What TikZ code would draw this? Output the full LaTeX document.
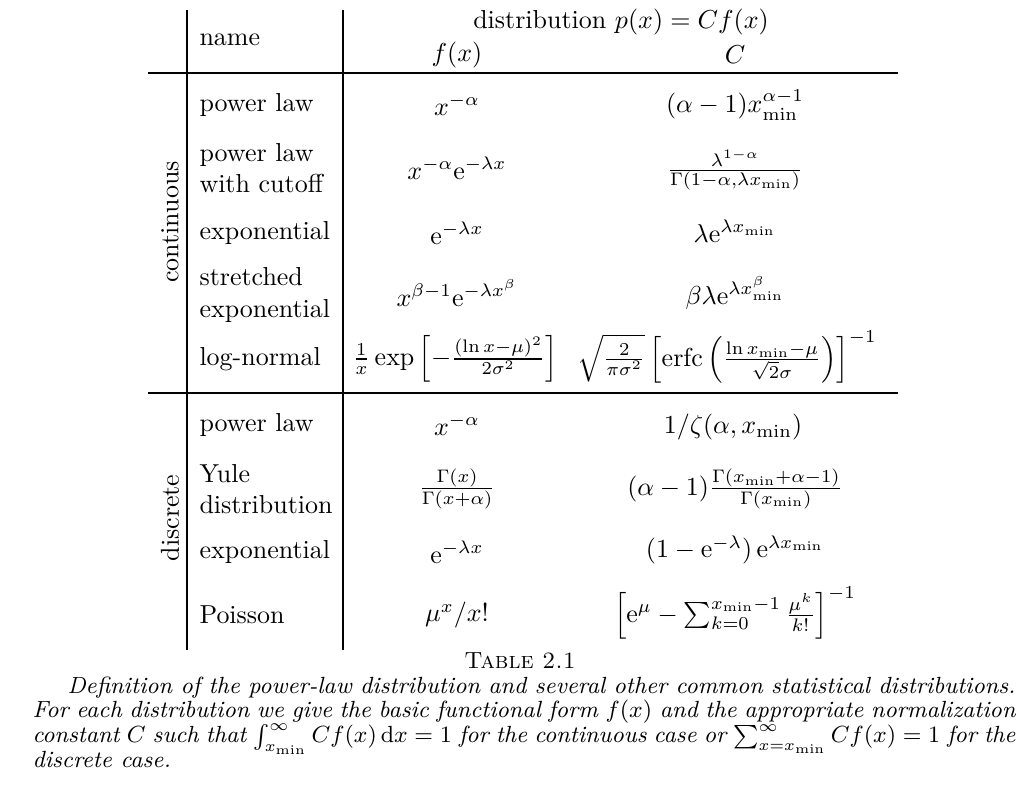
\documentclass[tikz,border=0pt]{standalone}
\usepackage{amsmath}
\begin{document}
\begin{tikzpicture}[x=0.385pt,y=-0.385pt,
  nm/.style={anchor=west,inner sep=0pt,align=left},
  cell/.style={inner sep=0pt},
  rule/.style={line width=0.8pt}]
\useasboundingbox (0,0) rectangle (1036,784);
\draw[rule] (187,10) -- (187,650);
\draw[rule] (343,10) -- (343,650);
\draw[rule] (148,73) -- (898,73);
\draw[rule] (148,393) -- (898,393);
% header
\node[nm] (hname) at (199,40) {name};
\node[cell] (hdist) at (621,22) {distribution $p(x)=Cf(x)$};
\node[cell] (hf) at (457,55) {$f(x)$};
\node[cell] (hc) at (735,55) {$C$};
\node[cell,rotate=90] (cont) at (170,222) {continuous};
\node[cell,rotate=90] (disc) at (170,518) {discrete};
% continuous
\node[nm] (n1) at (199,105) {power law};
\node[cell] (f1) at (457,105) {$x^{-\alpha}$};
\node[cell] (c1) at (735,105) {$(\alpha-1)x_{\min}^{\alpha-1}$};
\node[nm,text width=150] (n2) at (199,168) {power law\\[0pt]with cutoff};
\node[cell] (f2) at (457,168) {$x^{-\alpha}\mathrm{e}^{-\lambda x}$};
\node[cell] (c2) at (735,170) {$\frac{\lambda^{1-\alpha}}{\Gamma(1-\alpha,\lambda x_{\min})}$};
\node[nm] (n3) at (199,233) {exponential};
\node[cell] (f3) at (457,233) {$\mathrm{e}^{-\lambda x}$};
\node[cell] (c3) at (735,231) {$\lambda\mathrm{e}^{\lambda x_{\min}}$};
\node[nm,text width=150] (n4) at (199,295) {stretched\\[0pt]exponential};
\node[cell] (f4) at (457,293) {$x^{\beta-1}\mathrm{e}^{-\lambda x^\beta}$};
\node[cell] (c4) at (735,293) {$\beta\lambda\mathrm{e}^{\lambda x_{\min}^\beta}$};
\node[nm] (n5) at (199,359) {log-normal};
\node[cell] (f5) at (455,359) {$\frac{1}{x}\exp\left[-\frac{(\ln x-\mu)^2}{2\sigma^2}\right]$};
\node[cell] (c5) at (727,357) {$\sqrt{\frac{2}{\pi\sigma^2}}\left[\mathrm{erfc}\left(\frac{\ln x_{\min}-\mu}{\sqrt{2}\sigma}\right)\right]^{-1}$};
% discrete
\node[nm] (n6) at (199,425) {power law};
\node[cell] (f6) at (457,425) {$x^{-\alpha}$};
\node[cell] (c6) at (733,427) {$1/\zeta(\alpha,x_{\min})$};
\node[nm,text width=150] (n7) at (199,489) {Yule\\[0pt]distribution};
\node[cell] (f7) at (457,489) {$\frac{\Gamma(x)}{\Gamma(x+\alpha)}$};
\node[cell] (c7) at (735,489) {$(\alpha-1)\frac{\Gamma(x_{\min}+\alpha-1)}{\Gamma(x_{\min})}$};
\node[nm] (n8) at (199,552) {exponential};
\node[cell] (f8) at (457,552) {$\mathrm{e}^{-\lambda x}$};
\node[cell] (c8) at (735,550) {$(1-\mathrm{e}^{-\lambda})\,\mathrm{e}^{\lambda x_{\min}}$};
\node[nm] (n9) at (199,615) {Poisson};
\node[cell] (f9) at (457,615) {$\mu^x/x!$};
\node[cell] (c9) at (735,613) {$\left[\mathrm{e}^\mu-\sum_{k=0}^{x_{\min}-1}\frac{\mu^k}{k!}\right]^{-1}$};
% caption
\node[cell] (tab) at (520,661) {\small\textsc{Table 2.1}};
\node[cell,anchor=north west,text width=983*0.385pt,align=justify,font=\small\itshape] (cap) at (32,676)
{\baselineskip=9.6pt\lineskiplimit=-5pt\hspace*{1.5em}Definition of the power-law distribution and several other common statistical distributions.\linebreak For each distribution we give the basic functional form $f(x)$ and the appropriate normalization\linebreak constant $C$ such that $\int_{x_{\min}}^\infty Cf(x)\,\mathrm{d}x=1$ for the continuous case or $\sum_{x=x_{\min}}^\infty Cf(x)=1$ for the\linebreak discrete case.\par};
\end{tikzpicture}
\end{document}
